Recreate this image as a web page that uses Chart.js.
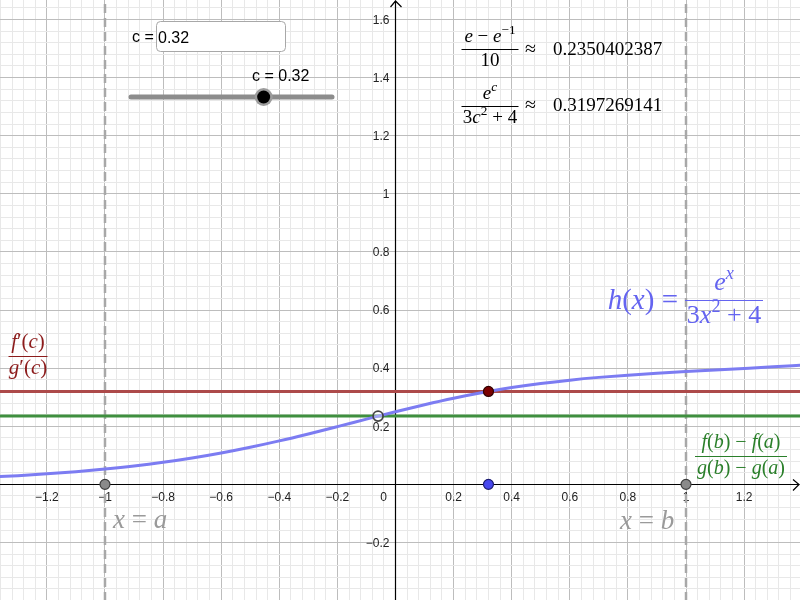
<!DOCTYPE html>
<html>
<head>
<meta charset="utf-8">
<script src="https://cdn.jsdelivr.net/npm/chart.js"></script>
<style>
  html, body { margin: 0; padding: 0; background: #fff; }
  canvas { display: block; }
</style>
</head>
<body>
<canvas id="chart" width="800" height="600"></canvas>
<script>
// h(x) = e^x / (3x^2 + 4)
const curveX = [-1.4, -1.3, -1.2, -1.1, -1.0, -0.9, -0.8, -0.7, -0.6, -0.5, -0.4, -0.3, -0.2, -0.1,
                0, 0.1, 0.2, 0.3, 0.4, 0.5, 0.6, 0.7, 0.8, 0.9, 1.0, 1.1, 1.2, 1.3, 1.4];
const curveY = [0.0250, 0.0300, 0.0362, 0.0436, 0.0526, 0.0632, 0.0759, 0.0908, 0.1080, 0.1277,
                0.1496, 0.1735, 0.1987, 0.2245, 0.2500, 0.2742, 0.2965, 0.3161, 0.3330, 0.3471,
                0.3587, 0.3682, 0.3759, 0.3825, 0.3883, 0.3937, 0.3991, 0.4046, 0.4104];

const aVal = -1;
const bVal = 1;
const cVal = 0.32;
const meanRatio = 0.2350402387;   // (f(b)-f(a))/(g(b)-g(a))
const ratioAtC = 0.3197269141;    // f'(c)/g'(c)
const crossX = -0.06;             // where h meets the green line

const xTickLabels = [-1.2, -1, -0.8, -0.6, -0.4, -0.2, 0, 0.2, 0.4, 0.6, 0.8, 1, 1.2];
const yTickLabels = [-0.2, 0.2, 0.4, 0.6, 0.8, 1, 1.2, 1.4, 1.6];

// view window
const X_MIN = -1.3614, X_MAX = 1.3924, Y_MIN = -0.398, Y_MAX = 1.667;

const SERIF = '"Liberation Serif", "DejaVu Serif", serif';
const SANS = '"Liberation Sans", Arial, sans-serif';

const fmt = v => String(v).replace('-', '\u2212');

function isMajor(v) {
  const q = v / 0.2;
  return Math.abs(q - Math.round(q)) < 1e-6;
}

function gridTicks(scale) {
  const t = [];
  for (let k = Math.ceil(scale.min / 0.04); k * 0.04 <= scale.max + 1e-9; k++) {
    t.push({ value: +(k * 0.04).toFixed(4) });
  }
  scale.ticks = t;
}

// ---- little rich-text helpers for the math labels ----
function segFont(k, size) {
  const sup = k === 'I' || k === 'R';
  const it = k === 'i' || k === 'I';
  return (it ? 'italic ' : '') + (sup ? size * 0.7 : size) + 'px ' + SERIF;
}
function richWidth(ctx, segs, size) {
  let w = 0;
  for (const [t, k] of segs) { ctx.font = segFont(k, size); w += ctx.measureText(t).width; }
  return w;
}
function rich(ctx, segs, x, y, size, color, align) {
  const w = richWidth(ctx, segs, size);
  let cx = align === 'center' ? x - w / 2 : align === 'right' ? x - w : x;
  ctx.fillStyle = color;
  ctx.textAlign = 'left';
  ctx.textBaseline = 'alphabetic';
  for (const [t, k] of segs) {
    ctx.font = segFont(k, size);
    const sup = k === 'I' || k === 'R';
    ctx.fillText(t, cx, sup ? y - size * 0.42 : y);
    cx += ctx.measureText(t).width;
  }
  return w;
}
function frac(ctx, num, den, cx, barY, size, color, barW) {
  rich(ctx, num, cx, barY - size * 0.38, size, color, 'center');
  rich(ctx, den, cx, barY + size * 0.88, size, color, 'center');
  ctx.strokeStyle = color;
  ctx.lineWidth = 1;
  ctx.beginPath();
  ctx.moveTo(cx - barW / 2, barY + 0.5);
  ctx.lineTo(cx + barW / 2, barY + 0.5);
  ctx.stroke();
}

const axesPlugin = {
  id: 'axes',
  beforeDatasetsDraw(chart) {
    const { ctx, scales: { x, y }, chartArea: ca } = chart;
    const ox = Math.round(x.getPixelForValue(0)) + 0.5;
    const oy = Math.round(y.getPixelForValue(0)) + 0.5;
    ctx.save();
    ctx.strokeStyle = '#000';
    ctx.lineWidth = 1.2;
    ctx.beginPath();
    ctx.moveTo(ca.left, oy); ctx.lineTo(ca.right - 1, oy);
    ctx.moveTo(ca.right - 7, oy - 5); ctx.lineTo(ca.right - 1, oy); ctx.lineTo(ca.right - 7, oy + 6);
    ctx.moveTo(ox, ca.bottom); ctx.lineTo(ox, ca.top + 1);
    ctx.moveTo(ox - 5, ca.top + 7); ctx.lineTo(ox, ca.top + 1); ctx.lineTo(ox + 6, ca.top + 7);
    ctx.stroke();

    ctx.fillStyle = '#222';
    ctx.font = '12px ' + SANS;
    ctx.textBaseline = 'middle';
    ctx.textAlign = 'center';
    for (const v of xTickLabels) {
      const px = x.getPixelForValue(v);
      if (v === 0) { ctx.fillText('0', px - 12, oy + 13); continue; }
      ctx.fillText(fmt(v), px, oy + 13);
    }
    ctx.textAlign = 'right';
    for (const v of yTickLabels) {
      ctx.fillText(fmt(v), ox - 6, y.getPixelForValue(v) + 1);
    }
    ctx.restore();
  },
  afterDatasetsDraw(chart) {
    const { ctx, scales: { x } } = chart;
    ctx.save();

    // top formulas
    frac(ctx, [['e', 'i'], [' \u2212 ', 'r'], ['e', 'i'], ['\u22121', 'R']], [['10', 'r']], 490, 49, 19, '#000', 57);
    rich(ctx, [['\u2248', 'r']], 525, 55, 20, '#000', 'left');
    rich(ctx, [[meanRatio.toFixed(10), 'r']], 553, 55, 19, '#000', 'left');
    frac(ctx, [['e', 'i'], ['c', 'I']], [['3', 'r'], ['c', 'i'], ['2', 'R'], [' + 4', 'r']], 490, 106, 19, '#000', 57);
    rich(ctx, [['\u2248', 'r']], 525, 111, 20, '#000', 'left');
    rich(ctx, [[ratioAtC.toFixed(10), 'r']], 553, 111, 19, '#000', 'left');

    // h(x) label
    const blue = '#6464f0';
    rich(ctx, [['h', 'i'], ['(', 'r'], ['x', 'i'], [')', 'r'], [' =', 'r']], 678, 309, 29, blue, 'right');
    frac(ctx, [['e', 'i'], ['x', 'I']], [['3', 'r'], ['x', 'i'], ['2', 'R'], [' + 4', 'r']], 724, 300, 26, blue, 78);

    // f'(c)/g'(c)
    frac(ctx, [['f', 'i'], ['\u2032', 'r'], ['(', 'r'], ['c', 'i'], [')', 'r']],
              [['g', 'i'], ['\u2032', 'r'], ['(', 'r'], ['c', 'i'], [')', 'r']], 28, 356, 21, '#8c1c1c', 39);

    // (f(b)-f(a))/(g(b)-g(a))
    frac(ctx, [['f', 'i'], ['(', 'r'], ['b', 'i'], [')', 'r'], [' \u2212 ', 'r'], ['f', 'i'], ['(', 'r'], ['a', 'i'], [')', 'r']],
              [['g', 'i'], ['(', 'r'], ['b', 'i'], [')', 'r'], [' \u2212 ', 'r'], ['g', 'i'], ['(', 'r'], ['a', 'i'], [')', 'r']],
              741, 456, 20, '#2a7f2a', 92);

    // x = a, x = b
    const gray = '#9a9a9a';
    rich(ctx, [['x', 'i'], [' = ', 'r'], ['a', 'i']], x.getPixelForValue(aVal) + 8, 528, 27, gray, 'left');
    rich(ctx, [['x', 'i'], [' = ', 'r'], ['b', 'i']], x.getPixelForValue(bVal) - 66, 529, 27, gray, 'left');

    // input box
    ctx.font = '16px ' + SANS;
    ctx.fillStyle = '#000';
    ctx.textAlign = 'left';
    ctx.textBaseline = 'alphabetic';
    ctx.fillText('c =', 132, 42);
    ctx.beginPath();
    ctx.roundRect(156.5, 21.5, 129, 30, 4);
    ctx.fillStyle = '#fff';
    ctx.fill();
    ctx.strokeStyle = '#a8a8a8';
    ctx.lineWidth = 1;
    ctx.stroke();
    ctx.fillStyle = '#000';
    ctx.fillText(String(cVal), 158, 43);

    // slider (range -1 .. 1)
    const sl = 131, sr = 332, sy = 97;
    ctx.strokeStyle = '#8c8c8c';
    ctx.lineWidth = 5;
    ctx.lineCap = 'round';
    ctx.beginPath(); ctx.moveTo(sl, sy); ctx.lineTo(sr, sy); ctx.stroke();
    const kx = sl + (cVal + 1) / 2 * (sr - sl);
    ctx.fillStyle = '#9c9c9c';
    ctx.beginPath(); ctx.arc(kx, sy, 9, 0, Math.PI * 2); ctx.fill();
    ctx.fillStyle = '#000';
    ctx.beginPath(); ctx.arc(kx, sy, 6.5, 0, Math.PI * 2); ctx.fill();
    ctx.font = '16px ' + SANS;
    ctx.fillText('c = ' + cVal, 252, 81);

    ctx.restore();
  }
};

new Chart(document.getElementById('chart'), {
  type: 'scatter',
  data: {
    datasets: [
      { // points
        data: [{ x: aVal, y: 0 }, { x: bVal, y: 0 }],
        pointRadius: 5, pointBackgroundColor: '#8a8a8a', pointBorderColor: '#3c3c3c', pointBorderWidth: 1.2,
        order: 0
      },
      {
        data: [{ x: cVal, y: 0 }],
        pointRadius: 5, pointBackgroundColor: '#4848ee', pointBorderColor: '#1e1e70', pointBorderWidth: 1.2,
        order: 0
      },
      {
        data: [{ x: cVal, y: ratioAtC }],
        pointRadius: 5, pointBackgroundColor: '#7a0000', pointBorderColor: '#300000', pointBorderWidth: 1.2,
        order: 0
      },
      {
        data: [{ x: crossX, y: meanRatio }],
        pointRadius: 5, pointBackgroundColor: 'rgba(255,255,255,0.3)', pointBorderColor: '#444', pointBorderWidth: 1.8,
        order: 0
      },
      { // h(x)
        data: curveX.map((v, i) => ({ x: v, y: curveY[i] })),
        showLine: true, borderColor: '#7c7cf2', borderWidth: 3, pointRadius: 0,
        cubicInterpolationMode: 'monotone', order: 1
      },
      { // f'(c)/g'(c)
        data: [{ x: X_MIN - 0.1, y: ratioAtC }, { x: X_MAX + 0.1, y: ratioAtC }],
        showLine: true, borderColor: '#ad4a4a', borderWidth: 3, pointRadius: 0, order: 2
      },
      { // mean ratio
        data: [{ x: X_MIN - 0.1, y: meanRatio }, { x: X_MAX + 0.1, y: meanRatio }],
        showLine: true, borderColor: '#3f8f3f', borderWidth: 3, pointRadius: 0, order: 2
      },
      { // x = a
        data: [{ x: aVal, y: Y_MIN - 0.1 }, { x: aVal, y: Y_MAX + 0.1 }],
        showLine: true, borderColor: '#a8a8a8', borderWidth: 2.5, borderDash: [9, 5], pointRadius: 0, order: 3
      },
      { // x = b
        data: [{ x: bVal, y: Y_MIN - 0.1 }, { x: bVal, y: Y_MAX + 0.1 }],
        showLine: true, borderColor: '#a8a8a8', borderWidth: 2.5, borderDash: [9, 5], pointRadius: 0, order: 3
      }
    ]
  },
  options: {
    responsive: false,
    animation: false,
    devicePixelRatio: 1,
    layout: { padding: 0, autoPadding: false },
    plugins: { legend: { display: false }, tooltip: { enabled: false } },
    scales: {
      x: {
        type: 'linear', min: X_MIN, max: X_MAX,
        afterBuildTicks: gridTicks,
        ticks: { display: false },
        border: { display: false },
        grid: { drawTicks: false, lineWidth: 1, color: c => isMajor(c.tick.value) ? '#bdbdbd' : '#e8e8e8' }
      },
      y: {
        type: 'linear', min: Y_MIN, max: Y_MAX,
        afterBuildTicks: gridTicks,
        ticks: { display: false },
        border: { display: false },
        grid: { drawTicks: false, lineWidth: 1, color: c => isMajor(c.tick.value) ? '#bdbdbd' : '#e8e8e8' }
      }
    }
  },
  plugins: [axesPlugin]
});
</script>
</body>
</html>
